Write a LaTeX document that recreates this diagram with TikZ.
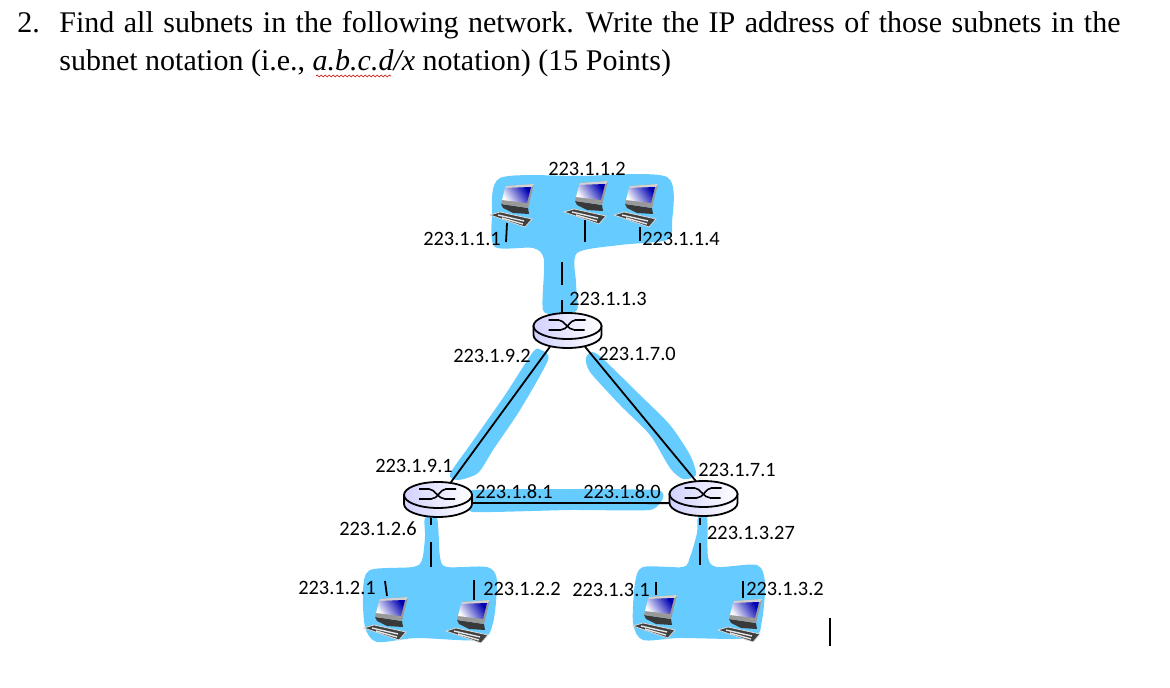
\documentclass[tikz,border=0pt]{standalone}
\usepackage{fontspec}
\setmainfont{Liberation Serif}
\newfontfamily\addrfont{Carlito}
\usetikzlibrary{shapes.geometric}
\usetikzlibrary{decorations.pathmorphing}
\definecolor{subnetblue}{HTML}{66CCFF}
\tikzset{Blob Fill/.style = {fill = subnetblue, draw = none}}
\tikzset{Wire Line/.style = {line width = 0.9pt, black}}
\tikzset{Addr Label/.style = {inner sep = 0, font = \addrfont\fontsize{10.2}{12}\selectfont}}
\tikzset{Main Text/.style = {inner sep = 0, anchor = base west, font = \fontsize{15}{17}\selectfont}}
\tikzset{Router Spot/.style = {ellipse, inner sep = 0, minimum width = 34pt, minimum height = 18pt}}
\tikzset{pics/router/.style = {code = {
  \draw [line width = 0.9pt, left color = blue!18, right color = white]
  (-34, -5) -- (-34, 4) arc [start angle = 180, end angle = 360, x radius = 17pt, y radius = 6.5pt] -- (34, -5) -- cycle;
  \draw [line width = 0.9pt, left color = blue!18, right color = white] (0, -5) ellipse [x radius = 17pt, y radius = 6.5pt];
  \draw [line width = 0.8pt] (-19, -11) -- (-9, -11) .. controls (-3, -11) and (0, -1) .. (7, -1) -- (17, -1);
  \draw [line width = 0.8pt] (-19, -1) -- (-7, -1) .. controls (0, -1) and (2, -11) .. (8, -11) -- (18, -11);
}}}
\tikzset{pics/host/.style = {code = {
  \fill [gray!45!black] (-9, -6) -- (18, -2) -- (19, 4) -- (3, 3) -- (-7, -2) -- cycle;
  \fill [gray!80] (-4, -24) -- (24, -26) -- (18, -2) -- (-9, -6) -- cycle;
  \fill [gray!35] (-4, -24) -- (24, -26) -- (22, -23) -- (-5, -22) -- cycle;
  \path [left color = white, middle color = blue!22, right color = blue!70!black, shading angle = 125]
  (-5, -22) -- (21, -23) -- (17, -7) -- (-8, -10) -- cycle;
  \draw [gray!30, line width = 0.4pt, fill = gray!50!black] (-20, 5) -- (-10, 2) -- (22, 9) -- (15, 17) -- cycle;
  \draw [gray!20, line width = 0.7pt] (-12, 5) -- (14, 11);
  \draw [gray!20, line width = 0.7pt] (-8, 8) -- (13, 14);
}}}

\begin{document}
\begin{tikzpicture}[x = 0.5pt, y = -0.5pt]
  \useasboundingbox (0, 0) rectangle (1170, 688);

  % subnet blobs
  \fill [Blob Fill] plot [smooth cycle, tension = 0.45] coordinates {(500, 178) (580, 176) (667, 177) (672, 223)
    (667, 240) (620, 245) (577, 253) (576, 283) (577, 310) (560, 313) (543, 310) (544, 260) (533, 248) (495, 247) (492, 217)};
  \fill [Blob Fill] plot [smooth cycle, tension = 0.45] coordinates {(533, 352) (541, 350) (548, 360) (520, 410)
    (493, 450) (478, 473) (458, 480) (450, 474) (470, 445) (505, 395)};
  \fill [Blob Fill] plot [smooth cycle, tension = 0.45] coordinates {(586, 358) (592, 352) (602, 358) (640, 395)
    (670, 425) (690, 455) (696, 475) (683, 479) (670, 468) (650, 435) (620, 405) (590, 372)};
  \fill [Blob Fill] plot [smooth cycle, tension = 0.3] coordinates {(473, 490) (570, 489) (657, 490) (663, 498)
    (650, 510) (570, 510) (473, 512) (471, 500)};
  \fill [Blob Fill] plot [smooth cycle, tension = 0.45] coordinates {(425, 518) (437, 518) (440, 557) (447, 567)
    (487, 567) (497, 580) (493, 623) (480, 640) (417, 638) (377, 642) (365, 627) (363, 590) (370, 570) (413, 567) (422, 560) (425, 537)};
  \fill [Blob Fill] plot [smooth cycle, tension = 0.45] coordinates {(698, 517) (707, 517) (708, 557) (717, 567)
    (757, 565) (765, 583) (762, 620) (752, 638) (680, 638) (643, 640) (633, 623) (635, 583) (643, 567) (683, 567) (690, 557) (697, 533)};

  \node [Router Spot] (R1) at (567.5, 331) {};
  \node [Router Spot] (R2) at (438, 500) {};
  \node [Router Spot] (R3) at (703.5, 499) {};

  \coordinate (W1) at (507, 223);
  \coordinate (W2) at (506, 242);
  \coordinate (W3) at (585, 220);
  \coordinate (W4) at (585, 242);
  \coordinate (W5) at (640, 227);
  \coordinate (W6) at (640, 241);
  \coordinate (W7) at (562, 262);
  \coordinate (W8) at (562, 285);
  \coordinate (W9) at (562, 300);
  \coordinate (W10) at (562, 315);
  \coordinate (W11) at (431, 518);
  \coordinate (W12) at (431, 525);
  \coordinate (W13) at (431, 542);
  \coordinate (W14) at (431, 567);
  \coordinate (W15) at (385, 581);
  \coordinate (W16) at (387, 596);
  \coordinate (W17) at (474, 580);
  \coordinate (W18) at (474, 600);
  \coordinate (W19) at (700, 518);
  \coordinate (W20) at (700, 525);
  \coordinate (W21) at (700, 543);
  \coordinate (W22) at (700, 565);
  \coordinate (W23) at (656, 582);
  \coordinate (W24) at (656, 595);
  \coordinate (W25) at (743, 581);
  \coordinate (W26) at (743, 598);
  \coordinate (C1) at (830, 618);
  \coordinate (C2) at (830, 646);

  \foreach \a/\b in {W1/W2, W3/W4, W5/W6, W7/W8, W9/W10, W11/W12, W13/W14, W15/W16,
    W17/W18, W19/W20, W21/W22, W23/W24, W25/W26, C1/C2}
    \draw [Wire Line] (\a) -- (\b);

  \draw [Wire Line] (R1.222) -- (R2.54);
  \draw [Wire Line] (R1.318) -- (R3.113);
  \draw [Wire Line] (R2.355) -- (R3.187);

  \pic at (R1) {router};
  \pic at (R2) {router};
  \pic at (R3) {router};

  \foreach \hx/\hy in {510/210, 584/207, 634/210, 384/623, 466/626, 653/621, 738/625}
    \pic at (\hx, \hy) {host};

  \node [Addr Label] (A1) at (587, 169) {223.1.1.2};
  \node [Addr Label] (A2) at (462, 239) {223.1.1.1};
  \node [Addr Label] (A3) at (681, 239) {223.1.1.4};
  \node [Addr Label] (A4) at (608, 299) {223.1.1.3};
  \node [Addr Label] (A5) at (492, 356) {223.1.9.2};
  \node [Addr Label] (A6) at (637, 354) {223.1.7.0};
  \node [Addr Label] (A7) at (414, 466) {223.1.9.1};
  \node [Addr Label] (A8) at (514, 492) {223.1.8.1};
  \node [Addr Label] (A9) at (622, 492) {223.1.8.0};
  \node [Addr Label] (A10) at (737, 470) {223.1.7.1};
  \node [Addr Label] (A11) at (378, 529) {223.1.2.6};
  \node [Addr Label] (A12) at (751, 533) {223.1.3.27};
  \node [Addr Label] (A13) at (337, 588) {223.1.2.1};
  \node [Addr Label] (A14) at (522, 589) {223.1.2.2};
  \node [Addr Label] (A15) at (611, 590) {223.1.3.1};
  \node [Addr Label] (A16) at (785, 589) {223.1.3.2};

  \node [Main Text] (T1) at (17, 33) {2.};
  \node [Main Text] (T2) at (59, 33) {\spaceskip = 4.75pt Find all subnets in the following network. Write the IP address of those subnets in the};
  \node [Main Text] (T3) at (59, 71) {subnet notation (i.e., \textit{a.b.c.d/x} notation) (15 Points)};

  \coordinate (S1) at (316, 76);
  \coordinate (S2) at (391, 76);
  \draw [red!80!black, line width = 0.3pt, decorate, decoration = {snake, amplitude = 0.5pt, segment length = 2pt}] (S1) -- (S2);
\end{tikzpicture}
\end{document}
